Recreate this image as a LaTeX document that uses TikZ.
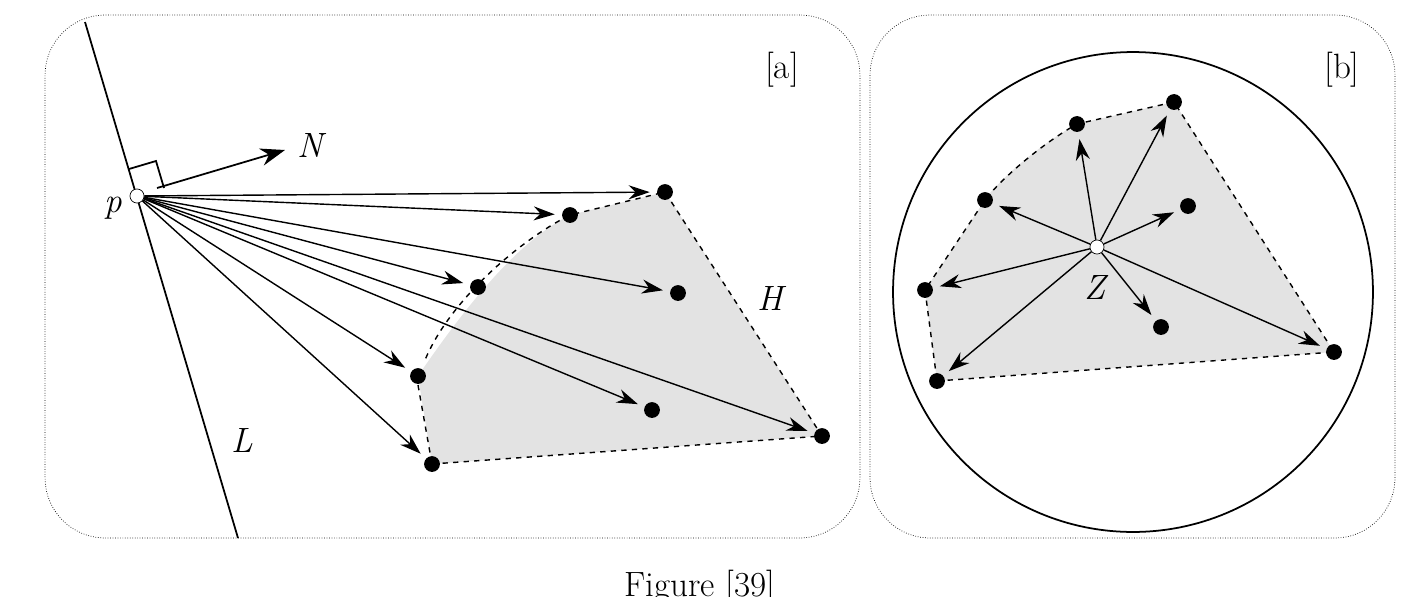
\documentclass[tikz,border=0pt]{standalone}
\usetikzlibrary{arrows.meta}
\begin{document}
\begin{tikzpicture}[x=0.02cm,y=-0.02cm,
  panel/.style={draw,densely dotted,rounded corners=1.2cm},
  dot/.style={circle,fill,inner sep=0pt,minimum size=9pt},
  hull/.style={draw,dashed,line width=0.8pt,fill=gray!22},
  arr/.style={-{Stealth[length=12pt,width=8pt]},line width=0.8pt,shorten >=4pt},
  lab/.style={font=\itshape\fontsize{20}{20}\selectfont}]
\useasboundingbox (0,0) rectangle (1414,596);
\node[panel,minimum width=16.3cm,minimum height=10.46cm] (pa) at (452.5,276.5) {};
\node[panel,minimum width=10.5cm,minimum height=10.46cm] (pb) at (1132.5,276.5) {};
\node[font=\fontsize{20}{20}\selectfont] (cap) at (700,588) {Figure [39]};
% panel a
\node[font=\fontsize{20}{20}\selectfont] (la) at (782,70) {[a]};
\fill[gray!22] (432,464) -- (822,436) -- (665,192) -- (570,215) .. controls (520,240) and (470,300) .. (418,376) -- cycle;
\draw[dashed,line width=0.8pt] (432,464) -- (822,436) -- (665,192) -- (570,215) .. controls (520,240) and (450,300) .. (425,360) (418,385) -- (432,464);
\foreach \n/\x/\y in {a1/665/192,a2/570/215,a3/478/287,a4/418/376,a5/432/464,a6/678/293,a7/652/410,a8/822/436}
  \node[dot] (\n) at (\x,\y) {};
\coordinate (l1) at (85,22); \coordinate (l2) at (238,538);
\draw[line width=1pt] (l1) -- (l2);
\node[circle,draw,fill=white,inner sep=0pt,minimum size=8pt] (p) at (137,196) {};
\draw[line width=1pt] (p) ++(-8,-27) coordinate (r1) -- ++(27,-8) coordinate (r2) -- ++(8,27);
\coordinate (n0) at (157,188);
\coordinate (n1) at (285,150);
\draw[-{Stealth[length=14pt,width=10pt]},line width=1pt] (n0) -- (n1);
\node[lab] (N) at (310,145) {N};
\node[lab] (pl) at (113,208) {p};
\node[lab] (L) at (242,440) {L};
\node[lab] (H) at (770,298) {H};
\foreach \n in {a1,a2,a3,a4,a5,a6,a7,a8} \draw[arr] (p) -- (\n);
% panel b
\node[font=\fontsize{20}{20}\selectfont] (lb) at (1342,70) {[b]};
\node[circle,draw,line width=1pt,minimum size=9.6cm] (c) at (1133,292) {};
\fill[gray!22] (937,381) -- (1334,352) -- (1174,102) -- (1077,124) .. controls (1030,150) and (990,190) .. (985,200) -- (925,290) -- cycle;
\draw[dashed,line width=0.8pt] (937,381) -- (1334,352) -- (1174,102) -- (1077,124) .. controls (1040,145) and (1000,180) .. (985,200) -- (925,290) -- (937,381);
\foreach \n/\x/\y in {b1/1174/102,b2/1077/124,b3/985/200,b4/925/290,b5/937/381,b6/1334/352,b7/1188/206,b8/1161/327}
  \node[dot] (\n) at (\x,\y) {};
\node[circle,draw,fill=white,inner sep=0pt,minimum size=8pt] (z) at (1097,247) {};
\node[lab] (Z) at (1095,287) {Z};
\foreach \n in {b1,b2,b3,b4,b5,b6,b7,b8} \draw[arr] (z) -- (\n);
\end{tikzpicture}
\end{document}
